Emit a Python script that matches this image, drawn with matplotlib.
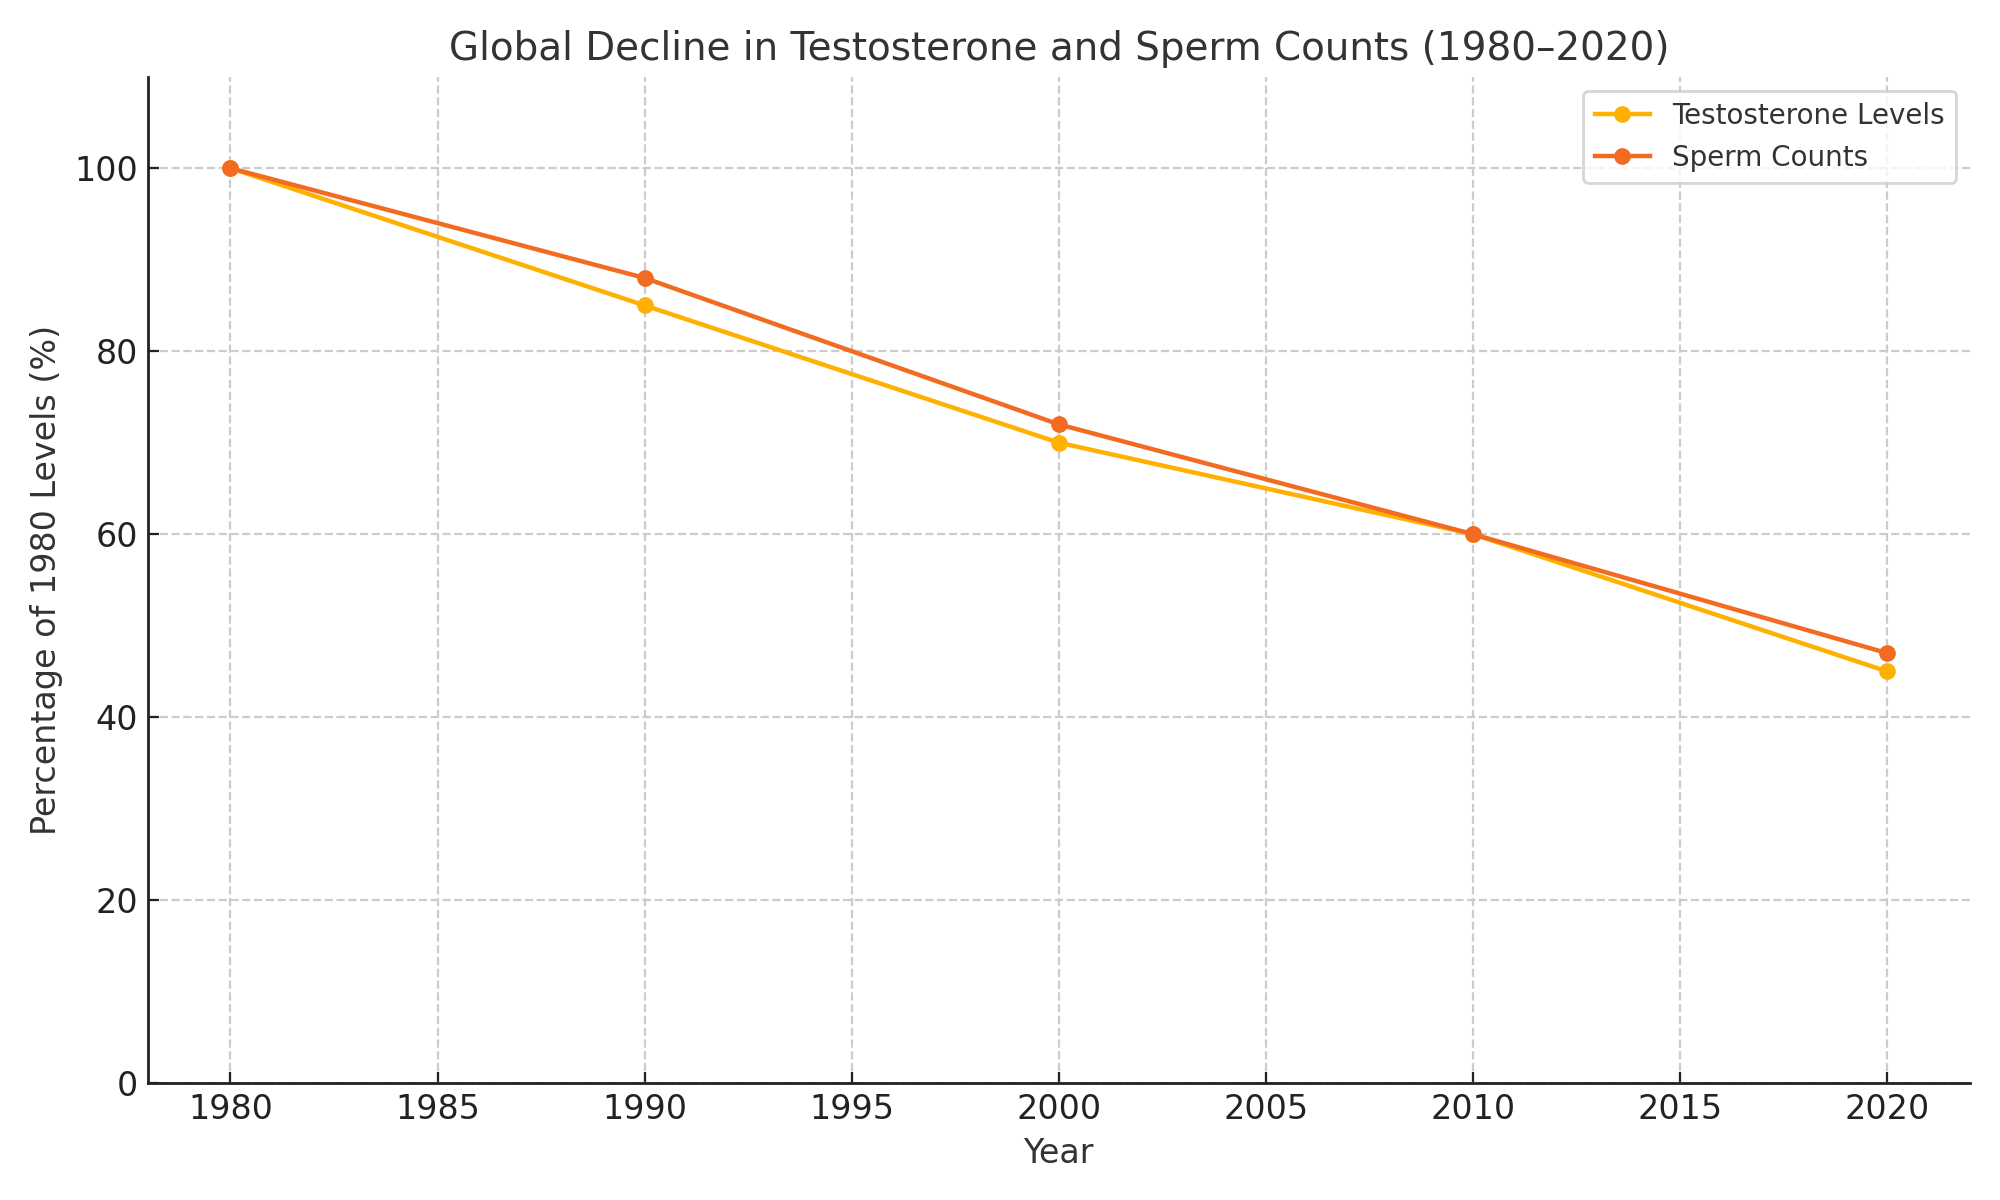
import matplotlib.pyplot as plt

years = [1980, 1990, 2000, 2010, 2020]
testosterone = [100, 85, 70, 60, 45]
sperm = [100, 88, 72, 60, 47]

plt.rcParams['font.family'] = 'DejaVu Sans'
text_color = '#333333'
axis_color = '#222222'

fig, ax = plt.subplots(figsize=(10, 6), dpi=200)

ax.plot(years, testosterone, marker='o', color='#FFB000', linewidth=1.6,
        markersize=5, label='Testosterone Levels')
ax.plot(years, sperm, marker='o', color='#F26B21', linewidth=1.6,
        markersize=5, label='Sperm Counts')

ax.set_title('Global Decline in Testosterone and Sperm Counts (1980–2020)',
             fontsize=14, color=text_color)
ax.set_xlabel('Year', fontsize=12, color=text_color)
ax.set_ylabel('Percentage of 1980 Levels (%)', fontsize=12, color=text_color)
ax.set_ylim(0, 110)
ax.tick_params(labelsize=12, colors=axis_color, direction='in', length=4)
ax.grid(True, linestyle='--', color='#cccccc', linewidth=0.8)
ax.spines['top'].set_visible(False)
ax.spines['right'].set_visible(False)
for s in ['left', 'bottom']:
    ax.spines[s].set_color(axis_color)
    ax.spines[s].set_linewidth(1.0)
ax.legend(fontsize=10, labelcolor=text_color)

plt.tight_layout()
plt.savefig('out.png')
